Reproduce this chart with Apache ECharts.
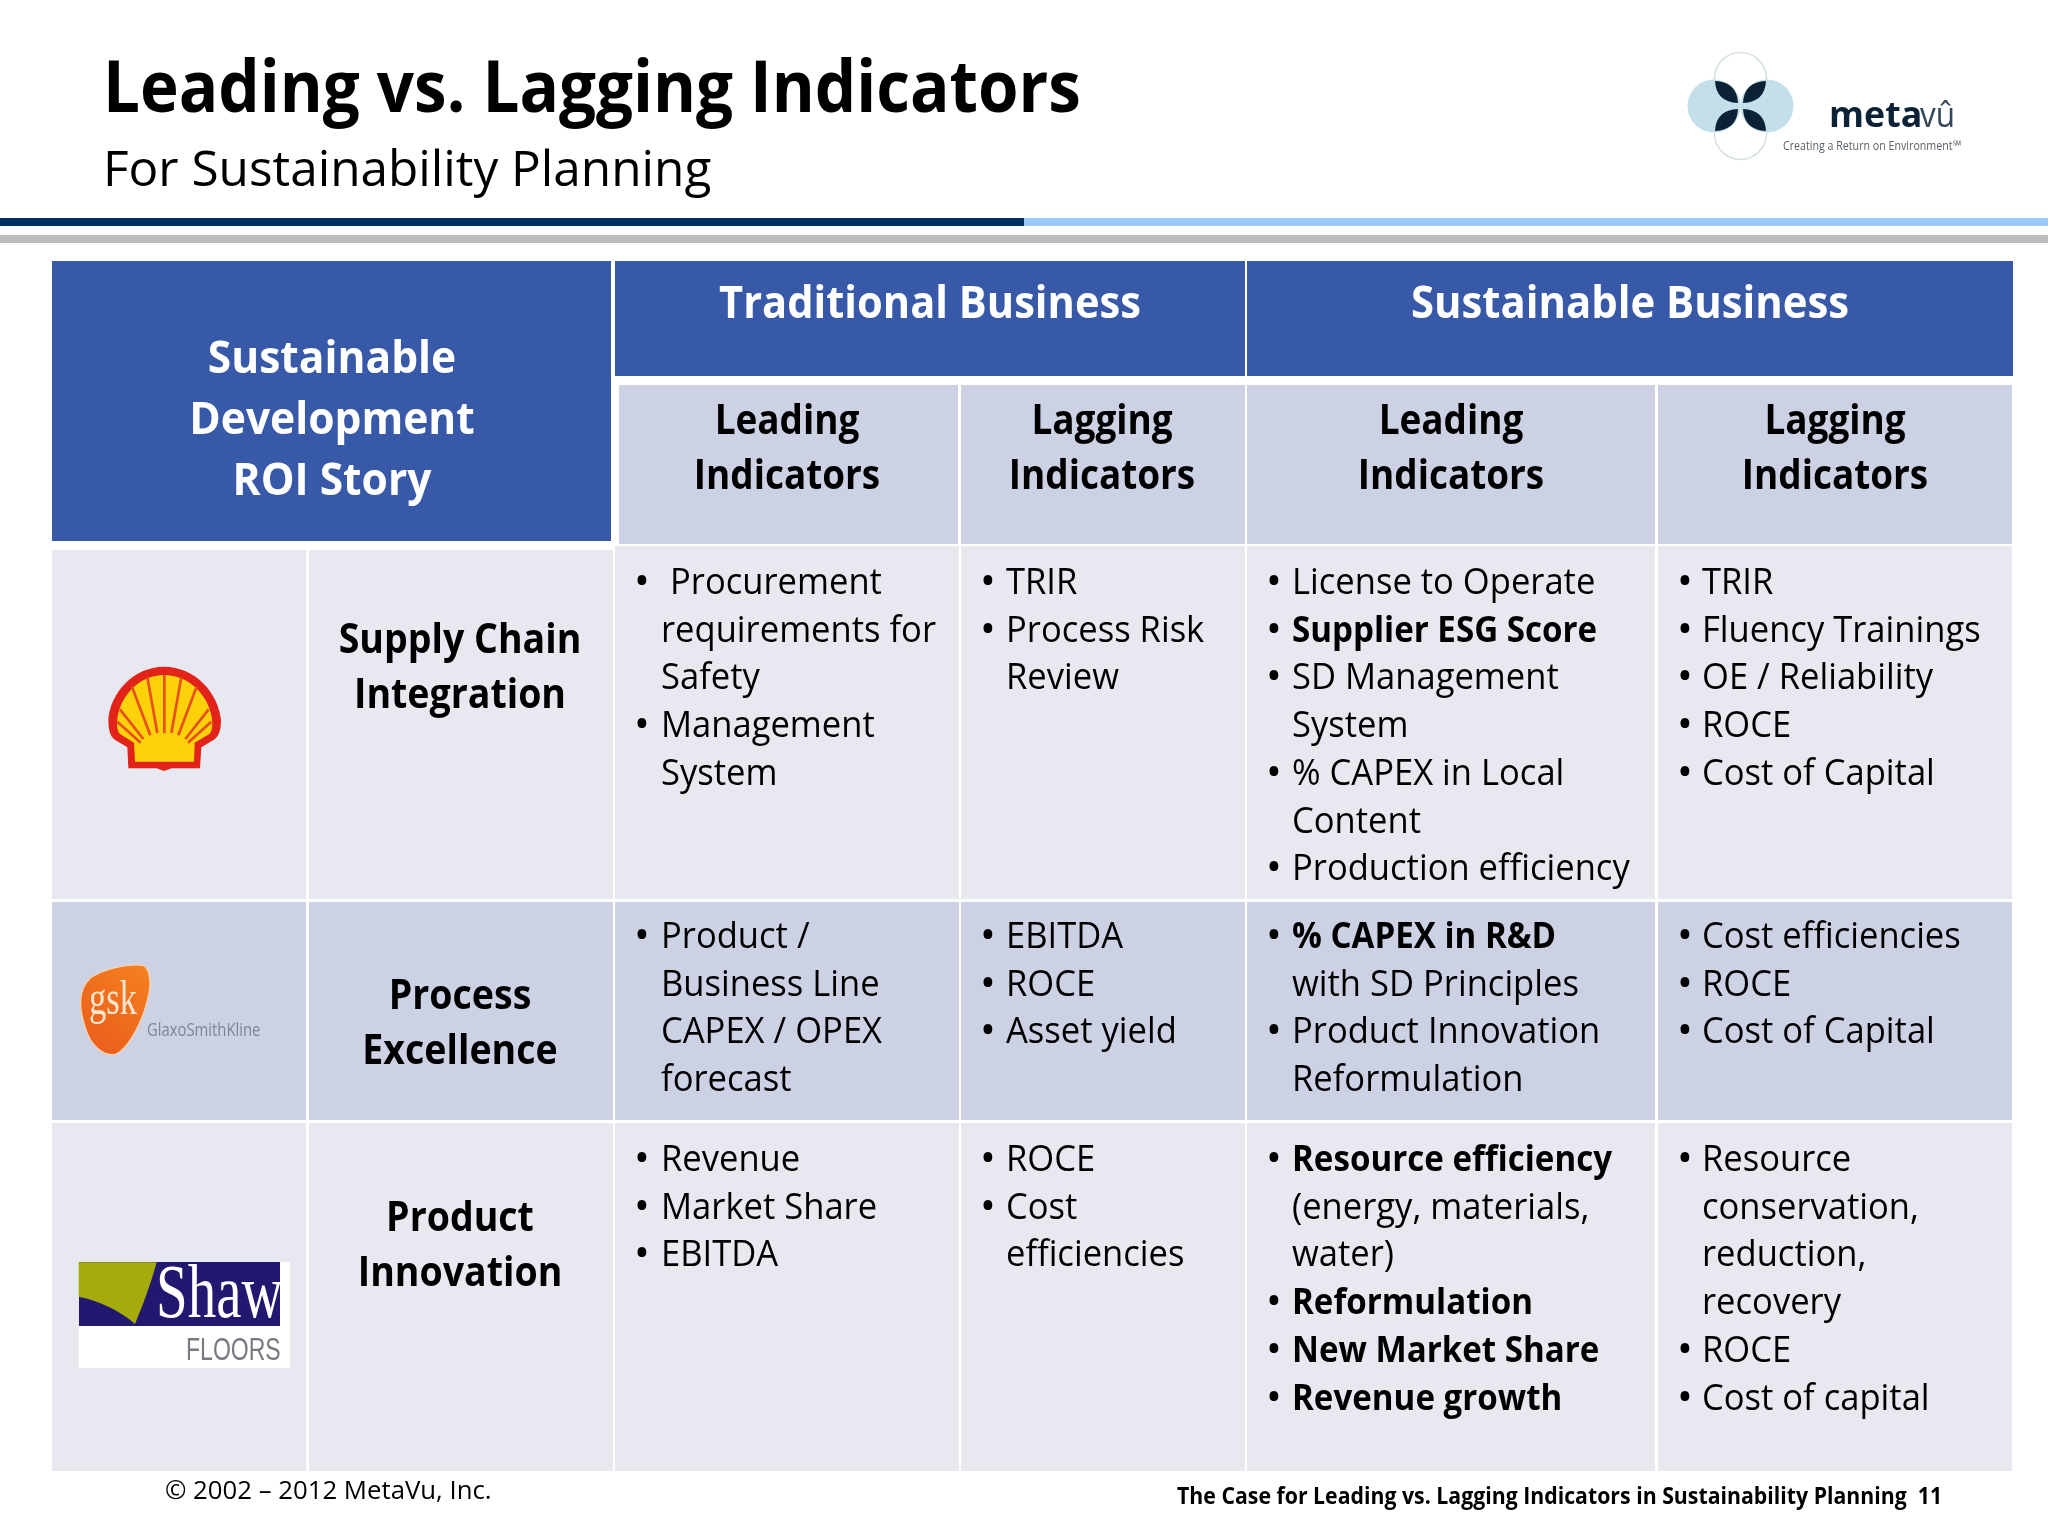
<!DOCTYPE html>
<html>
<head>
<meta charset="utf-8">
<style>html,body{margin:0;padding:0;background:#fff}#main{width:2048px;height:1536px}</style>
<script src="https://cdn.jsdelivr.net/npm/echarts@6/dist/echarts.min.js"></script>
</head>
<body>
<div id="main"></div>
<script>
// table content
const title = 'Leading vs. Lagging Indicators'
const subtitle = 'For Sustainability Planning'
const cornerHead = ['Sustainable', 'Development', 'ROI Story']
const groupHeads = ['Traditional Business', 'Sustainable Business']
const subHead = ['Leading', 'Indicators']
const subHeadLag = ['Lagging', 'Indicators']
const rowHeads = [
  ['Supply Chain', 'Integration'],
  ['Process', 'Excellence'],
  ['Product', 'Innovation']
]
// lines starting with • are bullets, the others continue the bullet above
const tradLeading = [
  ['• Procurement', '  requirements for', '  Safety', '• Management', '  System'],
  ['• Product /', '  Business Line', '  CAPEX / OPEX', '  forecast'],
  ['• Revenue', '• Market Share', '• EBITDA']
]
const tradLagging = [
  ['• TRIR', '• Process Risk', '  Review'],
  ['• EBITDA', '• ROCE', '• Asset yield'],
  ['• ROCE', '• Cost', '  efficiencies']
]
const sustLeading = [
  ['• License to Operate', '• Supplier ESG Score', '• SD Management', '  System', '• % CAPEX in Local', '  Content', '• Production efficiency'],
  ['• % CAPEX in R&D', '  with SD Principles', '• Product Innovation', '  Reformulation'],
  ['• Resource efficiency', '  (energy, materials,', '  water)', '• Reformulation', '• New Market Share', '• Revenue growth']
]
const sustLagging = [
  ['• TRIR', '• Fluency Trainings', '• OE / Reliability', '• ROCE', '• Cost of Capital'],
  ['• Cost efficiencies', '• ROCE', '• Cost of Capital'],
  ['• Resource', '  conservation,', '  reduction,', '  recovery', '• ROCE', '• Cost of capital']
]
const boldLines = ['Supplier ESG Score', '% CAPEX in R&D', 'Resource efficiency', 'Reformulation', 'New Market Share', 'Revenue growth']
const footerLeft = '© 2002 – 2012 MetaVu, Inc.'
const footerRight = 'The Case for Leading vs. Lagging Indicators in Sustainability Planning  11'

// layout
const bodyCols = [[52, 306], [309, 613], [615, 959], [961, 1245], [1247, 1655], [1658, 2012]]
const bodyRows = [[550, 899], [902, 1120], [1123, 1471]]
const bodyColTop = 546
const subCols = [[619, 958], [961, 1245], [1247, 1655], [1658, 2012]]
const subCenters = [787, 1102, 1451, 1835]
const bodyTextX = [[634, 661], [980, 1006], [1266, 1292], [1677, 1702]]
const firstLineY = [584, 938, 1161]
const linePitch = 47.75
const FONT = '"Open Sans"'
const BLUE = '#3759a8'
const PALE = '#e7e8f0'
const MID = '#cdd1e4'

function rect(api, x0, y0, x1, y1, fill) {
  const a = api.coord([x0, y0])
  const b = api.coord([x1, y1])
  return { type: 'rect', shape: { x: a[0], y: a[1], width: b[0] - a[0], height: b[1] - a[1] }, style: { fill: fill } }
}

function label(api, str, x, y, size, opt) {
  opt = opt || {}
  const p = api.coord([x, y])
  return {
    type: 'text', x: p[0], y: p[1], scaleX: opt.sx || 0.9,
    style: {
      text: str, fill: opt.fill || '#000',
      font: (opt.bold ? 'bold ' : '') + size + 'px ' + (opt.family || FONT),
      textAlign: opt.align || 'left', textVerticalAlign: 'middle'
    }
  }
}

function renderSlide(params, api) {
  const els = []
  // header rules
  els.push(rect(api, 0, 218, 1024, 226, '#002f66'))
  els.push(rect(api, 1024, 218, 2048, 226, '#9ac8f8'))
  els.push(rect(api, 0, 235, 2048, 243, '#bdbbbe'))
  els.push(label(api, title, 103, 91, 72, { bold: true, sx: 0.91 }))
  els.push(label(api, subtitle, 103, 172, 50, { sx: 0.99 }))
  // head blocks
  els.push(rect(api, 52, 261, 611, 541, BLUE))
  els.push(rect(api, 615, 261, 1245, 376, BLUE))
  els.push(rect(api, 1247, 261, 2013, 376, BLUE))
  cornerHead.forEach((t, i) => els.push(label(api, t, 332, 360 + i * 61, 45, { bold: true, fill: '#fff', align: 'center', sx: 0.945 })))
  els.push(label(api, groupHeads[0], 930, 305, 45, { bold: true, fill: '#fff', align: 'center', sx: 0.925 }))
  els.push(label(api, groupHeads[1], 1630, 305, 45, { bold: true, fill: '#fff', align: 'center', sx: 0.93 }))
  subCols.forEach((c, i) => {
    els.push(rect(api, c[0], 385, c[1], 544, MID))
    const lines = i % 2 ? subHeadLag : subHead
    lines.forEach((t, k) => els.push(label(api, t, subCenters[i], 422 + k * 55, 41, { bold: true, align: 'center' })))
  })
  // body cells
  const columns = [tradLeading, tradLagging, sustLeading, sustLagging]
  bodyRows.forEach((r, ri) => {
    bodyCols.forEach((c, ci) => {
      const top = ri === 0 && ci >= 2 ? bodyColTop : r[0]
      els.push(rect(api, c[0], top, c[1], r[1], ri === 1 ? MID : PALE))
    })
    rowHeads[ri].forEach((t, k) => els.push(label(api, t, 460, [641, 997, 1219][ri] + k * 55, 41, { bold: true, align: 'center', sx: 0.915 })))
    columns.forEach((col, ci) => {
      col[ri].forEach((line, k) => {
        const y = firstLineY[ri] + k * linePitch
        const text = line.slice(2)
        const isBullet = line[0] === '•'
        const bold = isBullet && boldLines.includes(text)
        if (isBullet) {
          els.push(label(api, '•', bodyTextX[ci][0], y - 1, 42, { sx: 1 }))
        }
        const x = bodyTextX[ci][1] + (text === 'Procurement' ? 9 : 0)
        els.push(label(api, text, x, y - 0.5, 36, { bold: bold, sx: bold ? 0.92 : 0.96 }))
      })
    })
  })
  els.push(label(api, footerLeft, 165, 1492, 25, { sx: 1.03 }))
  els.push(label(api, footerRight, 1177, 1497, 23, { bold: true, sx: 0.925 }))
  return { type: 'group', children: els }
}

// logos, hand drawn from the picture
function renderLogos() {
  const dark = '#0b2236'
  const petal = 'M1715 81Q1737 82 1738 103Q1716 102 1715 81ZM1766 81Q1744 82 1743 103Q1765 102 1766 81ZM1715 131Q1737 130 1738 109Q1716 110 1715 131ZM1766 131Q1744 130 1743 109Q1765 110 1766 131Z'
  const shellOuter = 'M265 445L262 382L222 358Q205 345 205 300C210 220 280 140 372 140C466 140 536 220 543 300Q543 345 524 358L484 382L480 445L395 445L372 453L350 445Z'
  const shellInner = 'M285 425L282 368L240 342Q228 330 232 296C242 225 300 165 372 165C446 165 506 225 516 296Q520 330 508 342L464 368L462 425Z'
  const rays = 'M373 340L373 165M352 339L322 172M394 339L424 172M331 346L276 200M415 346L470 200M310 357L240 268M436 357L506 268M302 368L232 305M444 368L514 305'
  const gsk = 'M310 1036C330 1045 335 1090 325 1130C310 1200 265 1290 225 1303C190 1310 150 1275 135 1220C115 1160 115 1110 150 1075C190 1045 270 1030 310 1036Z'
  const olive = 'M116 127L350 127C330 200 305 265 285 312C240 270 170 240 116 230Z'
  return {
    type: 'group',
    children: [
      // metavu mark
      { type: 'circle', shape: { cx: 1740.5, cy: 78.5, r: 26 }, style: { fill: '#fff', stroke: '#d5e0e5', lineWidth: 1.5 } },
      { type: 'circle', shape: { cx: 1740.5, cy: 133.5, r: 26 }, style: { fill: '#fff', stroke: '#d5e0e5', lineWidth: 1.5 } },
      { type: 'circle', shape: { cx: 1714, cy: 106, r: 26.5 }, style: { fill: '#c2dfea' } },
      { type: 'circle', shape: { cx: 1767, cy: 106, r: 26.5 }, style: { fill: '#c2dfea' } },
      { type: 'path', shape: { pathData: petal }, style: { fill: dark } },
      { type: 'text', x: 1829, y: 117, scaleX: 1.02, style: { text: 'meta', fill: dark, font: 'bold 35px ' + FONT, textVerticalAlign: 'middle' } },
      { type: 'text', x: 1920, y: 117, scaleX: 0.9, style: { text: 'vû', fill: '#33475a', font: '35px ' + FONT, textVerticalAlign: 'middle' } },
      { type: 'text', x: 1783, y: 146, scaleX: 0.82, style: { text: 'Creating a Return on Environment℠', fill: '#5b6268', font: '13px ' + FONT, textVerticalAlign: 'middle' } },
      // shell
      {
        type: 'group', x: 40, y: 620, scaleX: 1 / 3, scaleY: 1 / 3,
        children: [
          { type: 'path', shape: { pathData: shellOuter }, style: { fill: '#e2231a' } },
          { type: 'path', shape: { pathData: shellInner }, style: { fill: '#fdd20a' } },
          { type: 'path', shape: { pathData: rays }, style: { stroke: '#e8501a', lineWidth: 8, fill: 'none' } }
        ]
      },
      // gsk
      {
        type: 'group', x: 40, y: 620, scaleX: 1 / 3, scaleY: 1 / 3,
        children: [
          {
            type: 'path', shape: { pathData: gsk },
            style: {
              stroke: '#f7d3b0', lineWidth: 4,
              fill: new echarts.graphic.LinearGradient(1, 0, 0, 1, [{ offset: 0, color: '#f5821f' }, { offset: 1, color: '#e8591c' }])
            }
          }
        ]
      },
      { type: 'text', x: 113, y: 1001, scaleX: 0.72, style: { text: 'gsk', fill: '#fde6d0', font: '48px "Liberation Serif"', textAlign: 'center', textVerticalAlign: 'middle' } },
      { type: 'text', x: 147, y: 1031, scaleX: 0.78, style: { text: 'GlaxoSmithKline', fill: '#7f8495', font: '19px ' + FONT, textVerticalAlign: 'middle' } },
      // shaw
      { type: 'rect', shape: { x: 79, y: 1262, width: 211, height: 106 }, style: { fill: '#fff' } },
      { type: 'rect', shape: { x: 79, y: 1262, width: 201, height: 64 }, style: { fill: '#22186f' } },
      {
        type: 'group', x: 40, y: 1220, scaleX: 1 / 3, scaleY: 1 / 3,
        children: [{ type: 'path', shape: { pathData: olive }, style: { fill: '#a5ab0a' } }]
      },
      { type: 'text', x: 156, y: 1297, scaleX: 0.75, style: { text: 'Shaw', fill: '#fff', font: '76px "Liberation Serif"', textVerticalAlign: 'middle' } },
      { type: 'text', x: 186, y: 1351, scaleX: 0.72, style: { text: 'FLOORS', fill: '#777a80', font: '32px "Liberation Sans"', textVerticalAlign: 'middle' } }
    ]
  }
}

const chart = echarts.init(document.getElementById('main'))
chart.setOption({
  animation: false,
  backgroundColor: '#fff',
  grid: { left: 0, right: 0, top: 0, bottom: 0 },
  xAxis: { type: 'value', min: 0, max: 2048, show: false },
  yAxis: { type: 'value', min: 0, max: 1536, inverse: true, show: false },
  series: [
    { type: 'custom', silent: true, data: [[0, 0]], renderItem: renderSlide, clip: false },
    { type: 'custom', silent: true, data: [[0, 0]], renderItem: renderLogos, clip: false, z: 3 }
  ]
})
</script>
</body>
</html>
